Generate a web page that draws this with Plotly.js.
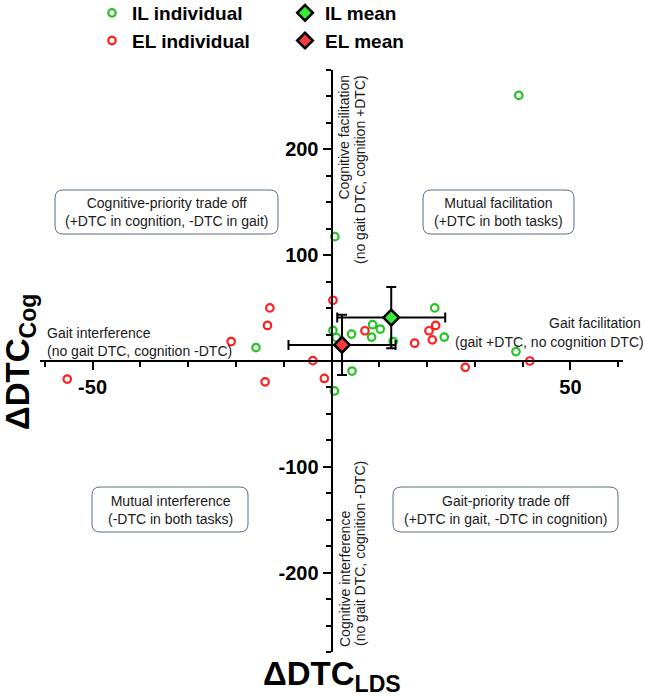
<!DOCTYPE html>
<html>
<head>
<meta charset="utf-8">
<script src="https://cdn.plot.ly/plotly-3.0.1.min.js"></script>
<style>html,body{margin:0;padding:0;background:#fff;}#chart{width:645px;height:696px;}</style>
</head>
<body>
<div id="chart"></div>
<script>
// ---- data ----
const ilX = [-15.8, 0.3, 1.0, 4.2, 8.6, 10.2, 8.4, 12.9, 21.6, 23.6, 4.3, 0.6, 38.6, 39.2, 0.7];
const ilY = [12.7, 28.9, 22.2, 25.4, 34.3, 30.2, 22.6, 18.4, 50.2, 22.6, -9.5, -28.3, 8.9, 251, 117.5];
const elX = [0.3, -12.9, -13.4, -21.0, -3.9, -13.9, -1.5, 7.0, 17.4, 20.4, 21.8, 21.1, 28.0, 41.5, -55.3];
const elY = [57.4, 50.2, 33.6, 18.4, 0.3, -19.7, -16.5, 28.6, 16.8, 28.6, 33.6, 20.0, -6.0, 0.0, -17.1];
const ilMean = {x: 12.5, y: 41, ex: 11.3, ey: 29};
const elMean = {x: 2.2, y: 15.2, ex: 11.2, ey: 28.5};
const seriesNames = ['IL individual', 'EL individual', 'IL mean', 'EL mean'];
const xTickVals = [-50, 50];
const xTickText = ['-50', '50'];
const xMinorVals = [-60, -40, -30, -20, -10, 10, 20, 30, 40, 60];
const yTickVals = [-200, -100, 100, 200];
const yTickText = ['-200', '-100', '100', '200'];
const yMinorVals = [-275, -250, -225, -175, -150, -125, -75, -50, -25, 25, 50, 75, 125, 150, 175, 225, 250, 275];

// ---- layout helpers (pixel -> paper) ----
const W = 645, H = 696, ML = 40, MR = 22, MT = 70, MB = 44;
const PW = W - ML - MR, PH = H - MT - MB;
const PX = px => (px - ML) / PW;
const PY = py => (H - MB - py) / PH;
const FONT = 'Liberation Sans, Arial, sans-serif';

function roundRect(x0, y0, x1, y1, r) {
  const X = PX, Y = PY;
  return 'M' + X(x0 + r) + ',' + Y(y0) +
    ' L' + X(x1 - r) + ',' + Y(y0) +
    ' Q' + X(x1) + ',' + Y(y0) + ' ' + X(x1) + ',' + Y(y0 + r) +
    ' L' + X(x1) + ',' + Y(y1 - r) +
    ' Q' + X(x1) + ',' + Y(y1) + ' ' + X(x1 - r) + ',' + Y(y1) +
    ' L' + X(x0 + r) + ',' + Y(y1) +
    ' Q' + X(x0) + ',' + Y(y1) + ' ' + X(x0) + ',' + Y(y1 - r) +
    ' L' + X(x0) + ',' + Y(y0 + r) +
    ' Q' + X(x0) + ',' + Y(y0) + ' ' + X(x0 + r) + ',' + Y(y0) + ' Z';
}

const boxes = [
  {b: [55, 190, 278, 234], t: 'Cognitive-priority trade off<br>(+DTC in cognition, -DTC in gait)'},
  {b: [423, 190, 574, 234], t: 'Mutual facilitation<br>(+DTC in both tasks)'},
  {b: [92, 487, 248, 532], t: 'Mutual interference<br>(-DTC in both tasks)'},
  {b: [393, 487, 618, 532], t: 'Gait-priority trade off<br>(+DTC in gait, -DTC in cognition)'}
];

const shapes = boxes.map(o => ({
  type: 'path', xref: 'paper', yref: 'paper',
  path: roundRect(o.b[0], o.b[1], o.b[2], o.b[3], 8),
  line: {color: '#5b6a8c', width: 1}, fillcolor: 'rgba(255,255,255,0)', layer: 'below'
}));

const txtFont = {family: FONT, size: 14, color: '#1a1a1a'};
const annotations = boxes.map(o => ({
  xref: 'paper', yref: 'paper', x: PX((o.b[0] + o.b[2]) / 2), y: PY((o.b[1] + o.b[3]) / 2),
  xanchor: 'center', yanchor: 'middle', text: o.t, showarrow: false, align: 'center', font: txtFont
}));

annotations.push(
  {xref: 'paper', yref: 'paper', x: PX(45), y: PY(341.5), xanchor: 'left', yanchor: 'middle',
   text: 'Gait interference<br>(no gait DTC, cognition -DTC)', align: 'left', showarrow: false, font: txtFont},
  {xref: 'paper', yref: 'paper', x: PX(643), y: PY(323), xanchor: 'right', yanchor: 'middle',
   text: 'Gait facilitation', showarrow: false, font: txtFont},
  {xref: 'paper', yref: 'paper', x: PX(646), y: PY(342), xanchor: 'right', yanchor: 'middle',
   text: '(gait +DTC, no cognition DTC)', showarrow: false, font: txtFont},
  {xref: 'paper', yref: 'paper', x: PX(343), y: PY(137.5), xanchor: 'center', yanchor: 'middle', textangle: -90,
   text: 'Cognitive facilitation', showarrow: false, font: txtFont},
  {xref: 'paper', yref: 'paper', x: PX(360), y: PY(170), xanchor: 'center', yanchor: 'middle', textangle: -90,
   text: '(no gait DTC, cognition +DTC)', showarrow: false, font: txtFont},
  {xref: 'paper', yref: 'paper', x: PX(345), y: PY(579), xanchor: 'center', yanchor: 'middle', textangle: -90,
   text: 'Cognitive interference', showarrow: false, font: txtFont},
  {xref: 'paper', yref: 'paper', x: PX(360), y: PY(554), xanchor: 'center', yanchor: 'middle', textangle: -90,
   text: '(no gait DTC, cognition -DTC)', showarrow: false, font: txtFont},
  // axis titles
  {xref: 'paper', yref: 'paper', x: PX(332), y: PY(698), xanchor: 'center', yanchor: 'bottom', borderpad: 0,
   text: 'ΔDTC<sub>LDS</sub>', showarrow: false, font: {family: FONT, size: 33, weight: 'bold', color: '#000'}},
  {xref: 'paper', yref: 'paper', x: PX(20), y: PY(362), xanchor: 'center', yanchor: 'middle', textangle: -90, borderpad: 0,
   text: 'ΔDTC<sub>Cog</sub>', showarrow: false, font: {family: FONT, size: 33, weight: 'bold', color: '#000'}}
);

const GREEN = '#22c322', RED = '#ff1e1e';
const errStyle = {type: 'data', symmetric: true, color: '#000', thickness: 2, width: 5};

const traces = [
  {type: 'scatter', mode: 'markers', name: seriesNames[0], x: ilX, y: ilY, legend: 'legend', legendrank: 1,
   marker: {symbol: 'circle-open', size: 7.5, color: GREEN, line: {color: GREEN, width: 2.2}}},
  {type: 'scatter', mode: 'markers', name: seriesNames[1], x: elX, y: elY, legend: 'legend', legendrank: 2,
   marker: {symbol: 'circle-open', size: 7.5, color: RED, line: {color: RED, width: 2.2}}},
  {type: 'scatter', mode: 'markers', name: seriesNames[2], x: [ilMean.x], y: [ilMean.y], legend: 'legend2', legendrank: 1,
   error_x: Object.assign({array: [ilMean.ex]}, errStyle),
   error_y: Object.assign({array: [ilMean.ey]}, errStyle),
   marker: {symbol: 'diamond', size: 12, color: '#33ee33', line: {color: '#000', width: 2.5}}},
  {type: 'scatter', mode: 'markers', name: seriesNames[3], x: [elMean.x], y: [elMean.y], legend: 'legend2', legendrank: 2,
   error_x: Object.assign({array: [elMean.ex]}, errStyle),
   error_y: Object.assign({array: [elMean.ey]}, errStyle),
   marker: {symbol: 'diamond', size: 12, color: '#f03c3c', line: {color: '#000', width: 2.5}}}
];

const legFont = {family: FONT, size: 19, weight: 'bold', color: '#000'};
const tickFont = {family: FONT, size: 20, weight: 'bold', color: '#000'};
const layout = {
  width: W, height: H,
  margin: {l: ML, r: MR, t: MT, b: MB, autoexpand: false},
  paper_bgcolor: '#fff', plot_bgcolor: 'rgba(0,0,0,0)',
  showlegend: true,
  legend: {orientation: 'v', x: PX(92), y: PY(-6), xanchor: 'left', yanchor: 'top',
    itemwidth: 30, traceorder: 'normal', bgcolor: 'rgba(0,0,0,0)', font: legFont},
  legend2: {orientation: 'v', x: PX(285), y: PY(-6), xanchor: 'left', yanchor: 'top',
    itemwidth: 30, traceorder: 'normal', bgcolor: 'rgba(0,0,0,0)', font: legFont},
  xaxis: {range: [-61, 61], anchor: 'free', position: 0.5, showline: true, linecolor: '#000', linewidth: 2,
    zeroline: false, showgrid: false, tickmode: 'array', tickvals: xTickVals, ticktext: xTickText,
    ticks: 'outside', ticklen: 8, tickwidth: 2, tickcolor: '#000', tickfont: tickFont, ticklabelstandoff: 0,
    minor: {tickmode: 'array', tickvals: xMinorVals, ticks: 'outside', ticklen: 5, tickwidth: 2, tickcolor: '#000', showgrid: false}},
  yaxis: {range: [-275, 275], anchor: 'free', position: 0.5, showline: true, linecolor: '#000', linewidth: 2,
    zeroline: false, showgrid: false, tickmode: 'array', tickvals: yTickVals, ticktext: yTickText,
    ticks: 'outside', ticklen: 8, tickwidth: 2, tickcolor: '#000', tickfont: tickFont,
    minor: {tickmode: 'array', tickvals: yMinorVals, ticks: 'outside', ticklen: 5, tickwidth: 2, tickcolor: '#000', showgrid: false}},
  shapes: shapes,
  annotations: annotations
};

Plotly.newPlot('chart', traces, layout, {displayModeBar: false, staticPlot: true});
</script>
</body>
</html>
